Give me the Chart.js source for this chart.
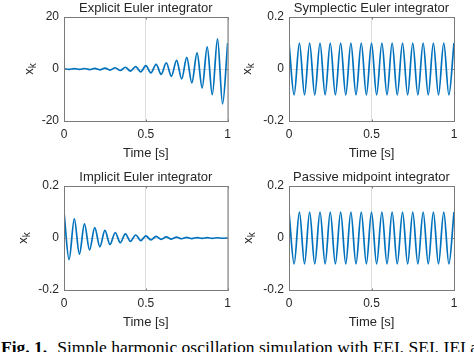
<!DOCTYPE html>
<html>
<head>
<meta charset="utf-8">
<script src="https://cdn.jsdelivr.net/npm/chart.js@4.4.1/dist/chart.umd.min.js"></script>
<style>
  html, body { margin: 0; padding: 0; background: #fff; }
  body { width: 474px; height: 352px; position: relative; overflow: hidden; }
  canvas { position: absolute; }
  #caption { position: absolute; left: 1px; top: 338px; font-size: 17.5px; line-height: 18px;
             font-family: "Liberation Serif", "Times New Roman", serif; white-space: nowrap; color: #000; }
  #caption b { margin-right: 10px; }
</style>
</head>
<body>
<canvas id="c1" width="237" height="163" style="left:0;top:0"></canvas>
<canvas id="c2" width="237" height="163" style="left:237px;top:0"></canvas>
<canvas id="c3" width="237" height="172" style="left:0;top:163px"></canvas>
<canvas id="c4" width="237" height="172" style="left:237px;top:163px"></canvas>
<div id="caption"><b>Fig. 1.</b>Simple harmonic oscillation simulation with EEI, SEI, IEI and PMI.</div>
<script>
// time of each peak / trough (16 cycles in 1 s)
const extremaTimes = [0, 0.031, 0.063, 0.094, 0.125, 0.156, 0.188, 0.219, 0.25, 0.281,
  0.313, 0.344, 0.375, 0.406, 0.438, 0.469, 0.5, 0.531, 0.563, 0.594, 0.625, 0.656,
  0.688, 0.719, 0.75, 0.781, 0.813, 0.844, 0.875, 0.906, 0.938, 0.969, 1];

// x_k at those times
const explicitEuler = [0.1, -0.12, 0.14, -0.16, 0.19, -0.22, 0.26, -0.3, 0.36, -0.42,
  0.49, -0.57, 0.67, -0.79, 0.92, -1.08, 1.26, -1.5, 1.75, -2.05, 2.4, -2.8, 3.3,
  -3.85, 4.5, -5.3, 6.2, -7.25, 8.5, -9.9, 11.6, -13.4, 10];
const symplecticEuler = [0.1, -0.1, 0.1, -0.1, 0.1, -0.1, 0.1, -0.1, 0.1, -0.1, 0.1,
  -0.1, 0.1, -0.1, 0.1, -0.1, 0.1, -0.1, 0.1, -0.1, 0.1, -0.1, 0.1, -0.1, 0.1, -0.1,
  0.1, -0.1, 0.1, -0.1, 0.1, -0.1, 0.1];
const implicitEuler = [0.1, -0.083, 0.074, -0.062, 0.054, -0.046, 0.04, -0.034, 0.029,
  -0.025, 0.021, -0.018, 0.016, -0.013, 0.0115, -0.0099, 0.0085, -0.0073, 0.0063,
  -0.0054, 0.0046, -0.004, 0.0034, -0.0029, 0.0025, -0.0021, 0.0018, -0.0016, 0.0014,
  -0.0012, 0.001, -0.0009, 0.0008];
const passiveMidpoint = [0.1, -0.1, 0.1, -0.1, 0.1, -0.1, 0.1, -0.1, 0.1, -0.1, 0.1,
  -0.1, 0.1, -0.1, 0.1, -0.1, 0.1, -0.1, 0.1, -0.1, 0.1, -0.1, 0.1, -0.1, 0.1, -0.1,
  0.1, -0.1, 0.1, -0.1, 0.1, -0.1, 0.1];

// ticks and their labels
const timeTicks = [0, 0.5, 1];
const timeTickLabels = ['0', '0.5', '1'];
const bigTicks = [-20, 0, 20];
const bigTickLabels = ['-20', '0', '20'];
const smallTicks = [-0.2, 0, 0.2];
const smallTickLabels = ['-0.2', '0', '0.2'];

const titles = ['Explicit Euler integrator', 'Symplectic Euler integrator',
  'Implicit Euler integrator', 'Passive midpoint integrator'];
const xLabel = 'Time [s]';

const FONT = '"Liberation Sans", Arial, Helvetica, sans-serif';
const TEXT = '#262626';
const BOX = '#7a7a7a';
const GRID = '#dedede';
const LINE = '#0072BD';

// box, inward ticks, title and axis labels the MATLAB way
const matlabAxes = {
  id: 'matlabAxes',
  afterDraw(chart, args, opts) {
    const { ctx, chartArea: a, scales } = chart;
    const l = a.left + 0.5, r = a.right + 0.5, t = a.top + 0.5, b = a.bottom + 0.5;
    ctx.save();
    ctx.strokeStyle = BOX;
    ctx.lineWidth = 1;
    ctx.strokeRect(l, t, r - l, b - t);
    ctx.beginPath();
    scales.x.ticks.forEach(tk => {
      const px = Math.round(scales.x.getPixelForValue(tk.value)) + 0.5;
      ctx.moveTo(px, b); ctx.lineTo(px, b - 2);
      ctx.moveTo(px, t); ctx.lineTo(px, t + 2);
    });
    scales.y.ticks.forEach(tk => {
      const py = Math.round(scales.y.getPixelForValue(tk.value)) + 0.5;
      ctx.moveTo(l, py); ctx.lineTo(l + 2, py);
      ctx.moveTo(r, py); ctx.lineTo(r - 2, py);
    });
    ctx.stroke();

    ctx.fillStyle = TEXT;
    ctx.textAlign = 'center';
    ctx.font = '13px ' + FONT;
    ctx.textBaseline = 'alphabetic';
    ctx.fillText(opts.title, (a.left + a.right) / 2, a.top - 5);
    ctx.textBaseline = 'middle';
    ctx.fillText(xLabel, (a.left + a.right) / 2, a.bottom + 32);

    // y label: x with subscript k, rotated
    ctx.translate(a.left + opts.yLabelOffset, (a.top + a.bottom) / 2);
    ctx.rotate(-Math.PI / 2);
    ctx.textAlign = 'left';
    ctx.textBaseline = 'alphabetic';
    ctx.font = '13px ' + FONT;
    const wx = ctx.measureText('x').width;
    ctx.font = '10px ' + FONT;
    const wk = ctx.measureText('k').width;
    const x0 = -(wx + wk) / 2;
    ctx.font = '13px ' + FONT;
    ctx.fillText('x', x0, 0);
    ctx.font = '10px ' + FONT;
    ctx.fillText('k', x0 + wx, 3);
    ctx.restore();
  }
};

function makePanel(id, values, yTicks, yLabels, title, pad, yWidth, xHeight, yLabelOffset) {
  new Chart(document.getElementById(id), {
    type: 'line',
    data: {
      datasets: [{
        data: extremaTimes.map((t, i) => ({ x: t, y: values[i] })),
        borderColor: LINE,
        borderWidth: 1.7,
        pointRadius: 0,
        cubicInterpolationMode: 'monotone'
      }]
    },
    options: {
      responsive: false,
      animation: false,
      devicePixelRatio: 1,
      layout: { padding: pad },
      plugins: {
        legend: { display: false },
        tooltip: { enabled: false },
        matlabAxes: { title: title, yLabelOffset: yLabelOffset }
      },
      scales: {
        x: {
          type: 'linear',
          min: 0, max: 1,
          afterBuildTicks: s => { s.ticks = timeTicks.map(v => ({ value: v })); },
          afterFit: s => { s.height = xHeight; },
          grid: { color: GRID, drawTicks: false },
          border: { display: false },
          ticks: {
            color: TEXT, padding: 6, maxRotation: 0, font: { family: FONT, size: 12 },
            callback: (v, i) => timeTickLabels[i]
          }
        },
        y: {
          min: yTicks[0], max: yTicks[yTicks.length - 1],
          afterBuildTicks: s => { s.ticks = yTicks.map(v => ({ value: v })); },
          afterFit: s => { s.width = yWidth; },
          grid: { color: GRID, drawTicks: false },
          border: { display: false },
          ticks: {
            color: TEXT, padding: 5, font: { family: FONT, size: 12 },
            callback: (v, i) => yLabels[i]
          }
        }
      }
    },
    plugins: [matlabAxes]
  });
}

makePanel('c1', explicitEuler, bigTicks, bigTickLabels, titles[0], { left: 0, top: 17, right: 9, bottom: 0 }, 64, 42, -31);
makePanel('c2', symplecticEuler, smallTicks, smallTickLabels, titles[1], { left: 0, top: 17, right: 20, bottom: 0 }, 52, 42, -38);
makePanel('c3', implicitEuler, smallTicks, smallTickLabels, titles[2], { left: 0, top: 23, right: 9, bottom: 0 }, 64, 45, -37);
makePanel('c4', passiveMidpoint, smallTicks, smallTickLabels, titles[3], { left: 0, top: 23, right: 20, bottom: 0 }, 52, 45, -37);
</script>
</body>
</html>
